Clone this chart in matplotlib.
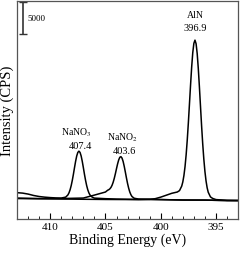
import numpy as np
import matplotlib
matplotlib.use('Agg')
import matplotlib.pyplot as plt
from matplotlib.ticker import MultipleLocator

plt.rcParams['font.family'] = 'Liberation Serif'
plt.rcParams['mathtext.fontset'] = 'stix'

# spectra: binding energy (eV) and intensity (CPS)
e_nano3 = [413.0, 412.5, 412.0, 411.5, 411.0, 410.5, 410.0, 409.5, 409.0, 408.6,
           408.4, 408.3, 408.2, 408.1, 408.0, 407.9, 407.8, 407.7, 407.6, 407.5,
           407.4, 407.3, 407.2, 407.1, 407.0, 406.9, 406.8, 406.7, 406.6, 406.5,
           406.4, 406.2, 406.0, 405.0, 404.0, 402.0, 400.0, 398.0, 396.0, 394.0, 393.0]
i_nano3 = [1000, 930, 780, 560, 400, 300, 230, 180, 160, 300,
           640, 970, 1450, 2100, 2920, 3870, 4910, 5900, 6730, 7280,
           7480, 7280, 6730, 5900, 4910, 3870, 2920, 2100, 1450, 970,
           640, 300, 150, 60, 0, -60, -80, -150, -160, -230, -230]

e_nano2 = [413.0, 411.0, 409.0, 407.0, 406.5, 406.0, 405.5, 405.0, 404.8, 404.7,
           404.6, 404.5, 404.4, 404.3, 404.2, 404.1, 404.0, 403.9, 403.8, 403.7,
           403.6, 403.5, 403.4, 403.3, 403.2, 403.1, 403.0, 402.9, 402.8, 402.7,
           402.6, 402.4, 402.0, 401.0, 400.0, 398.0, 396.0, 394.0, 393.0]
i_nano2 = [150, 80, 80, 160, 390, 620, 860, 1100, 1380, 1460,
           1600, 1820, 2160, 2640, 3250, 3970, 4750, 5500, 6120, 6520,
           6620, 6390, 5860, 5100, 4210, 3290, 2430, 1700, 1110, 690,
           400, 130, 0, -30, -80, -150, -160, -230, -230]

e_aln = [413.0, 410.0, 407.0, 405.0, 402.0, 401.0, 400.5, 400.0, 399.5, 399.0,
         398.5, 398.3, 398.1, 398.0, 397.9, 397.8, 397.7, 397.6, 397.5, 397.4,
         397.3, 397.2, 397.1, 397.0, 396.9, 396.8, 396.7, 396.6, 396.5, 396.4,
         396.3, 396.2, 396.1, 396.0, 395.9, 395.8, 395.7, 395.5, 395.3, 395.0,
         394.0, 393.0]
i_aln = [80, 30, -30, -60, -80, -40, 60, 300, 600, 900,
         1100, 1320, 2020, 2680, 3680, 5060, 6900, 9190, 11870, 14820,
         17800, 20580, 22850, 24300, 24800, 24240, 22710, 20370, 17520, 14440,
         11390, 8620, 6240, 4310, 2840, 1770, 1060, 340, 100, -80,
         -200, -230]

peak_names = ['NaNO$_3$', 'NaNO$_2$', 'AlN']
peak_pos = ['407.4', '403.6', '396.9']
name_xy = [(407.6, 10500), (403.5, 9670), (396.9, 28860)]
pos_xy = [(407.3, 8310), (403.3, 7640), (396.9, 26830)]

fig = plt.figure(figsize=(2.4, 2.55), dpi=100)
ax = fig.add_axes([0.071, 0.137, 0.921, 0.855])

for e, i in [(e_nano3, i_nano3), (e_nano2, i_nano2), (e_aln, i_aln)]:
    ax.plot(e, i, color='black', lw=1.1)

for name, pos, nxy, pxy in zip(peak_names, peak_pos, name_xy, pos_xy):
    ax.text(nxy[0], nxy[1], name, ha='center', va='center', fontsize=7)
    ax.text(pxy[0], pxy[1], pos, ha='center', va='center', fontsize=7.5)

# 5000 CPS scale bar
ax.errorbar([412.5], [28280], yerr=[2500], fmt='none', ecolor='#333333',
            elinewidth=1.2, capsize=3, capthick=1.0)
ax.text(412.1, 28280, '5000', ha='left', va='center', fontsize=6.5)

ax.set_xlim(413, 393)
ax.set_ylim(-3120, 30900)
ax.xaxis.set_major_locator(MultipleLocator(5))
ax.xaxis.set_minor_locator(MultipleLocator(1))
ax.tick_params(axis='x', which='major', direction='in', length=4, labelsize=8, pad=2)
ax.tick_params(axis='x', which='minor', direction='in', length=2)
ax.set_yticks([])
for s in ax.spines.values():
    s.set_color('#555555')
    s.set_linewidth(0.9)

ax.set_xlabel('Binding Energy (eV)', fontsize=10, labelpad=1)
ax.set_ylabel('Intensity (CPS)', fontsize=10.5, labelpad=2)

fig.savefig('out.png', dpi=100)
